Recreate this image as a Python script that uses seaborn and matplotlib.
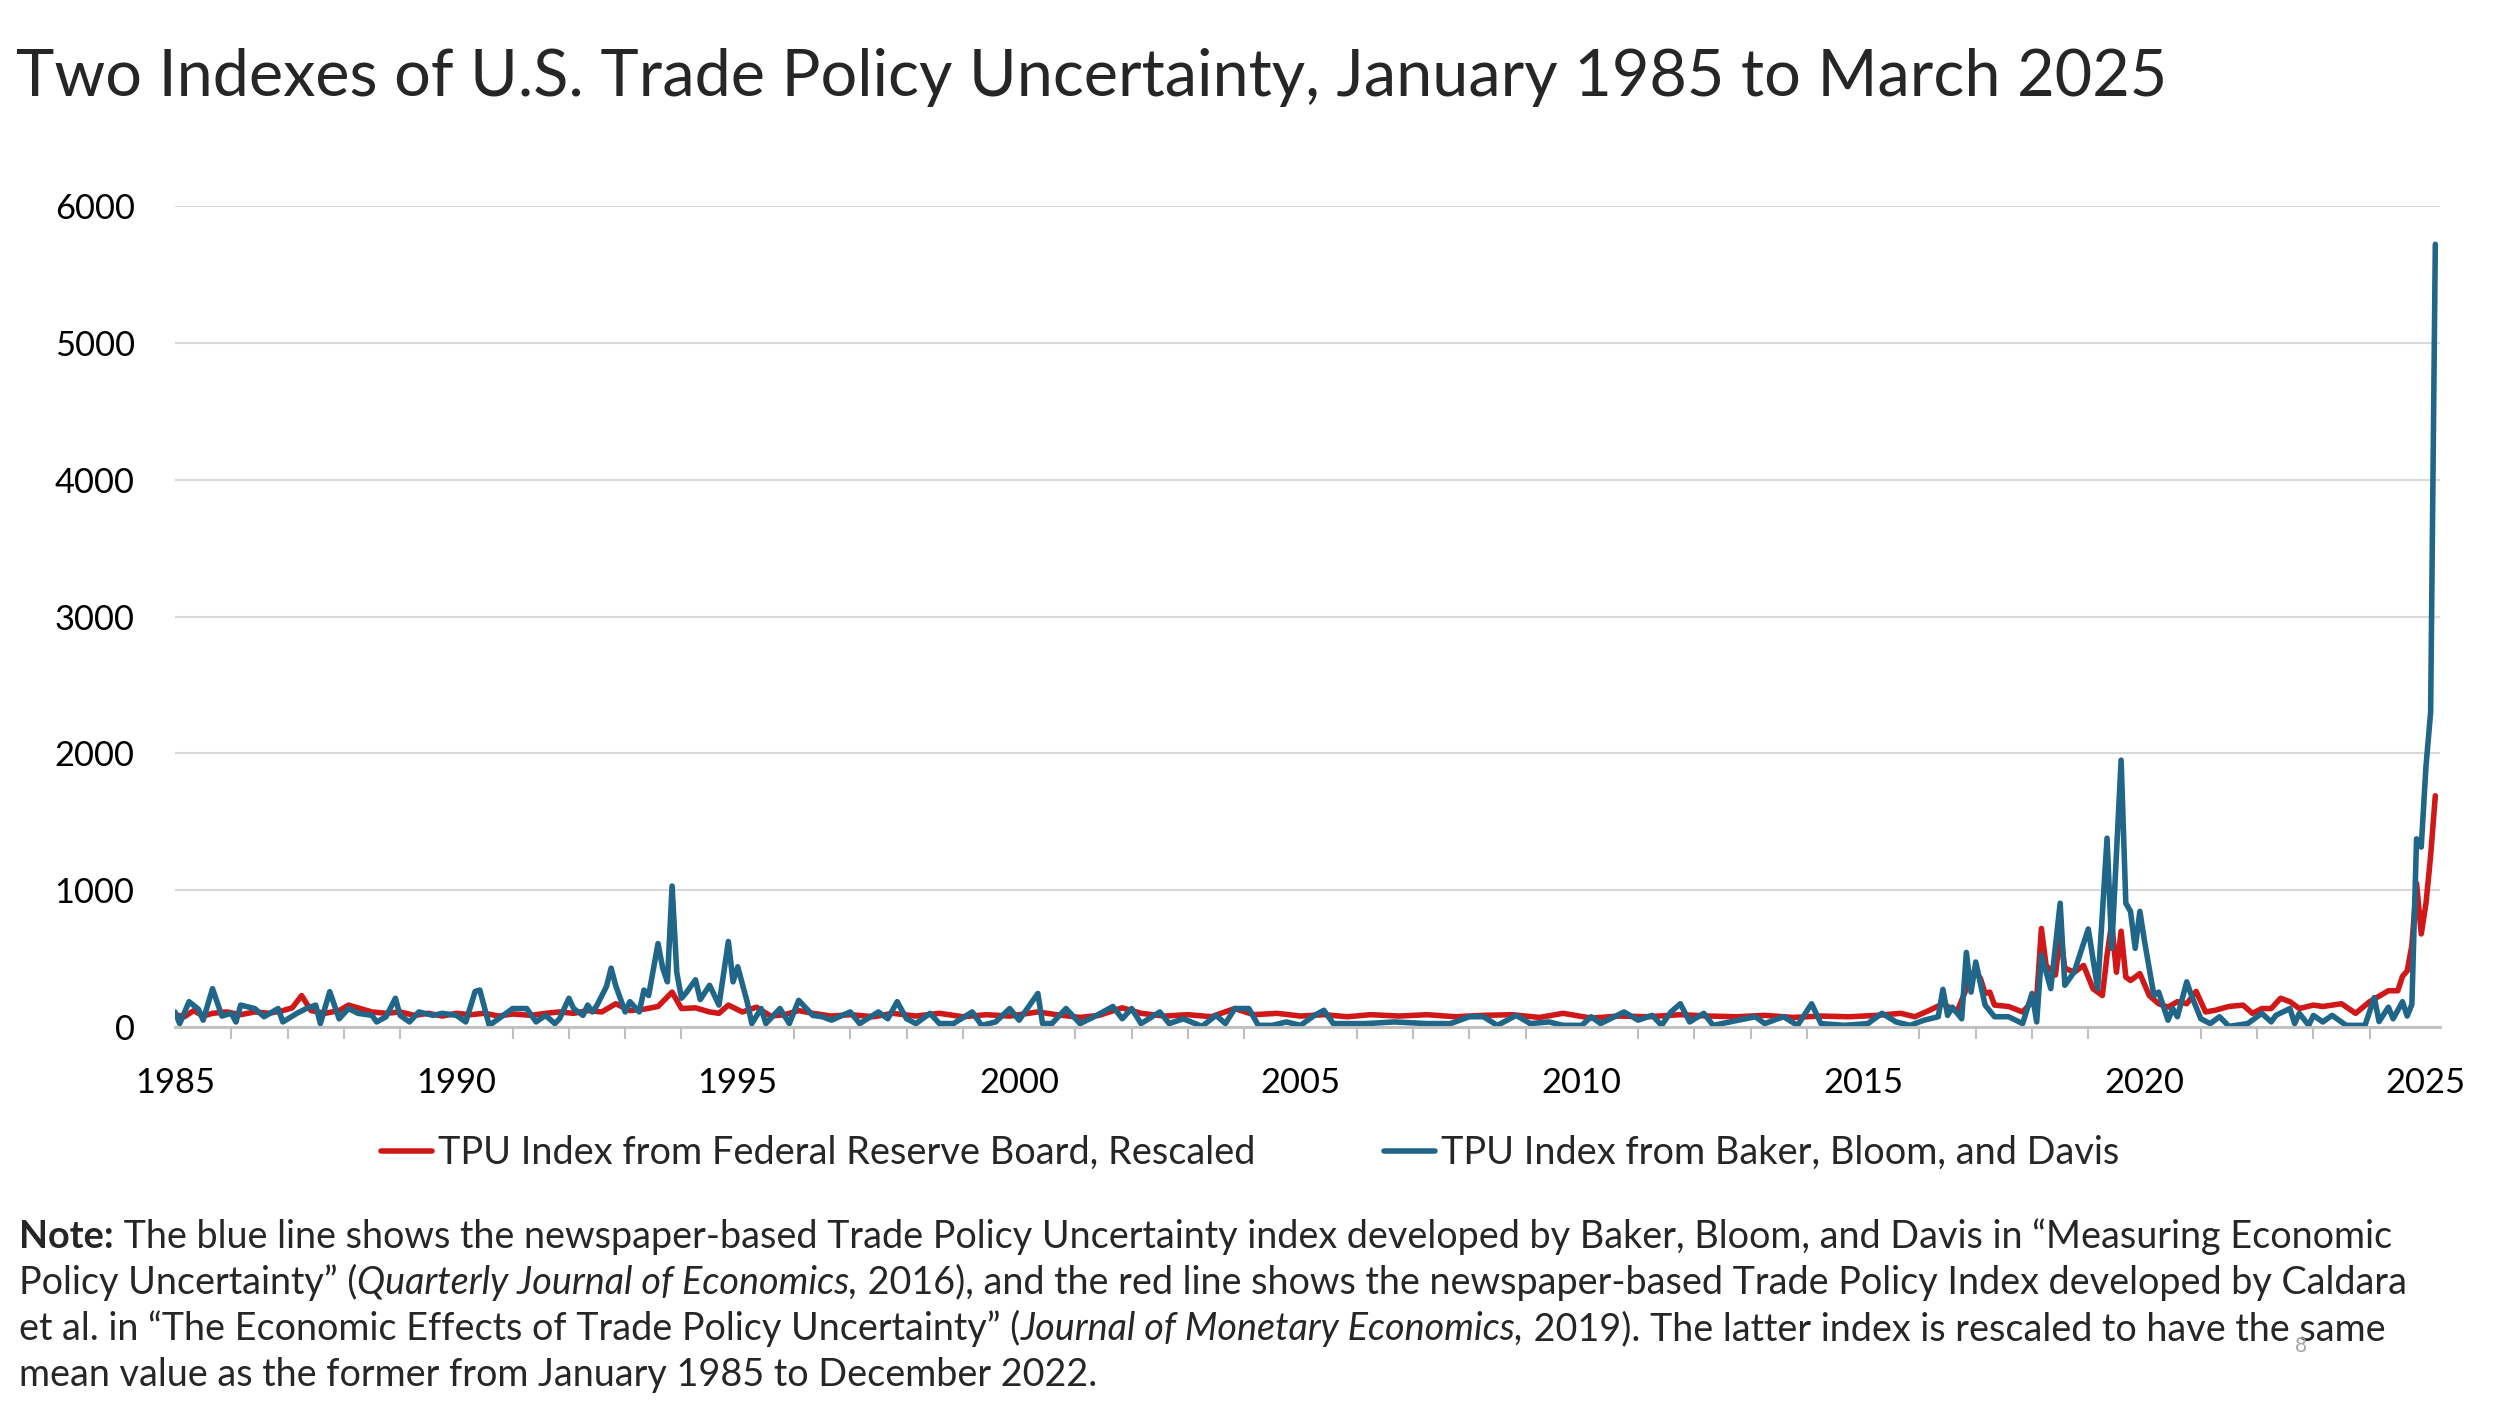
import matplotlib
matplotlib.use("Agg")
import matplotlib.pyplot as plt
import pandas as pd
import seaborn as sns

# Caldara et al. (Federal Reserve Board) index, rescaled
fed_months = [
    "1985-01", "1985-03", "1985-05", "1985-07", "1985-09", "1985-12", "1986-03", "1986-06",
    "1986-09", "1986-12", "1987-02", "1987-04", "1987-06", "1987-09", "1987-12", "1988-02",
    "1988-04", "1988-07", "1988-10", "1989-01", "1989-04", "1989-07", "1989-10", "1990-01",
    "1990-04", "1990-07", "1990-10", "1991-01", "1991-05", "1991-08", "1991-11", "1992-02",
    "1992-05", "1992-08", "1992-11", "1993-02", "1993-05", "1993-08", "1993-11", "1994-01",
    "1994-04", "1994-07", "1994-09", "1994-11", "1995-02", "1995-05", "1995-08", "1995-11",
    "1996-02", "1996-05", "1996-09", "1997-01", "1997-06", "1997-10", "1998-03", "1998-08",
    "1999-01", "1999-06", "1999-11", "2000-05", "2000-09", "2001-02", "2001-06", "2001-11",
    "2002-03", "2002-08", "2003-01", "2003-06", "2003-11", "2004-03", "2004-08", "2005-01",
    "2005-06", "2005-11", "2006-04", "2006-10", "2007-04", "2007-10", "2008-04", "2008-10",
    "2009-04", "2009-09", "2010-03", "2010-09", "2011-03", "2011-10", "2012-04", "2012-10",
    "2013-04", "2013-10", "2014-04", "2014-10", "2015-04", "2015-09", "2015-12", "2016-03",
    "2016-06", "2016-09", "2016-11", "2017-01", "2017-02", "2017-03", "2017-04", "2017-05",
    "2017-08", "2017-11", "2018-01", "2018-02", "2018-03", "2018-04", "2018-06", "2018-07",
    "2018-08", "2018-10", "2018-12", "2019-02", "2019-04", "2019-05", "2019-06", "2019-07",
    "2019-08", "2019-09", "2019-10", "2019-12", "2020-02", "2020-04", "2020-06", "2020-08",
    "2020-10", "2020-12", "2021-01", "2021-02", "2021-04", "2021-07", "2021-10", "2021-12",
    "2022-02", "2022-04", "2022-06", "2022-08", "2022-10", "2023-01", "2023-03", "2023-07",
    "2023-10", "2024-01", "2024-03", "2024-05", "2024-07", "2024-08", "2024-09", "2024-10",
    "2024-11", "2024-12", "2025-01", "2025-02", "2025-03",
]
fed_values = [
    90, 75, 120, 80, 100, 110, 90, 110,
    100, 120, 140, 230, 120, 100, 120, 160,
    140, 110, 100, 110, 85, 100, 80, 100,
    90, 100, 80, 95, 85, 100, 110, 100,
    120, 110, 170, 120, 130, 150, 255, 135,
    140, 110, 100, 160, 110, 145, 80, 90,
    120, 100, 80, 90, 75, 100, 80, 100,
    75, 90, 80, 110, 90, 70, 85, 140,
    100, 80, 90, 75, 135, 90, 100, 80,
    90, 75, 90, 80, 90, 75, 85, 90,
    70, 100, 65, 80, 75, 90, 80, 75,
    85, 70, 80, 75, 85, 100, 75, 120,
    170, 110, 280, 400, 355, 245, 255, 160,
    150, 110, 185, 210, 720, 450, 380, 685,
    430, 400, 450, 280, 230, 525, 758, 400,
    700, 365, 340, 390, 230, 170, 145, 185,
    170, 260, 185, 110, 122, 150, 160, 100,
    135, 135, 210, 185, 135, 160, 150, 170,
    100, 185, 225, 265, 265, 370, 410, 595,
    1050, 680, 900, 1250, 1690,
]

# Baker, Bloom and Davis index
bbd_months = [
    "1985-01", "1985-02", "1985-04", "1985-06", "1985-07", "1985-09", "1985-11", "1986-01",
    "1986-02", "1986-03", "1986-06", "1986-08", "1986-11", "1986-12", "1987-03", "1987-05",
    "1987-07", "1987-08", "1987-10", "1987-12", "1988-02", "1988-04", "1988-07", "1988-08",
    "1988-10", "1988-12", "1989-01", "1989-03", "1989-05", "1989-08", "1989-10", "1990-01",
    "1990-03", "1990-05", "1990-06", "1990-08", "1990-10", "1991-01", "1991-04", "1991-06",
    "1991-08", "1991-10", "1991-11", "1992-01", "1992-02", "1992-04", "1992-05", "1992-06",
    "1992-07", "1992-09", "1992-10", "1992-11", "1993-01", "1993-02", "1993-04", "1993-05",
    "1993-06", "1993-08", "1993-09", "1993-10", "1993-11", "1993-12", "1994-01", "1994-02",
    "1994-04", "1994-05", "1994-07", "1994-09", "1994-11", "1994-12", "1995-01", "1995-03",
    "1995-04", "1995-06", "1995-07", "1995-10", "1995-12", "1996-02", "1996-05", "1996-07",
    "1996-09", "1997-01", "1997-03", "1997-07", "1997-09", "1997-11", "1998-01", "1998-03",
    "1998-06", "1998-08", "1998-11", "1999-03", "1999-05", "1999-08", "1999-11", "2000-01",
    "2000-05", "2000-06", "2000-08", "2000-11", "2001-02", "2001-05", "2001-09", "2001-11",
    "2002-01", "2002-03", "2002-07", "2002-09", "2002-12", "2003-04", "2003-07", "2003-09",
    "2003-11", "2004-02", "2004-04", "2004-07", "2004-10", "2005-01", "2005-04", "2005-06",
    "2005-08", "2006-03", "2006-09", "2007-04", "2007-09", "2008-01", "2008-04", "2008-07",
    "2008-11", "2009-02", "2009-06", "2009-09", "2010-01", "2010-03", "2010-05", "2010-10",
    "2011-01", "2011-04", "2011-06", "2011-08", "2011-10", "2011-12", "2012-03", "2012-05",
    "2013-02", "2013-04", "2013-08", "2013-11", "2014-02", "2014-04", "2014-09", "2015-02",
    "2015-05", "2015-08", "2015-11", "2016-02", "2016-05", "2016-06", "2016-07", "2016-08",
    "2016-10", "2016-11", "2016-12", "2017-01", "2017-03", "2017-05", "2017-08", "2017-11",
    "2018-01", "2018-02", "2018-03", "2018-05", "2018-07", "2018-08", "2018-10", "2019-01",
    "2019-03", "2019-05", "2019-06", "2019-08", "2019-09", "2019-10", "2019-11", "2019-12",
    "2020-01", "2020-03", "2020-04", "2020-06", "2020-07", "2020-08", "2020-10", "2020-11",
    "2021-01", "2021-03", "2021-05", "2021-07", "2021-11", "2022-02", "2022-04", "2022-05",
    "2022-08", "2022-09", "2022-10", "2022-12", "2023-01", "2023-03", "2023-05", "2023-08",
    "2023-12", "2024-02", "2024-03", "2024-05", "2024-06", "2024-08", "2024-09", "2024-10",
    "2024-11", "2024-12", "2025-01", "2025-02", "2025-03",
]
bbd_values = [
    110, 25, 185, 130, 50, 280, 80, 100,
    37, 160, 135, 75, 135, 37, 100, 135,
    160, 25, 258, 60, 135, 100, 85, 37,
    75, 210, 85, 37, 110, 85, 100, 85,
    37, 260, 270, 12, 60, 135, 135, 37,
    85, 25, 60, 210, 135, 85, 160, 110,
    160, 295, 430, 300, 110, 185, 110, 270,
    230, 610, 430, 330, 1030, 400, 210, 250,
    345, 200, 305, 160, 625, 330, 440, 185,
    25, 135, 25, 135, 25, 195, 85, 75,
    50, 110, 25, 110, 60, 185, 60, 25,
    100, 25, 25, 110, 12, 37, 135, 50,
    245, 25, 25, 135, 25, 75, 150, 60,
    135, 25, 110, 25, 60, 5, 85, 25,
    135, 135, 12, 12, 37, 12, 85, 122,
    25, 25, 37, 25, 25, 75, 75, 12,
    85, 25, 37, 12, 12, 75, 25, 110,
    50, 85, 12, 110, 170, 37, 100, 12,
    75, 25, 75, 12, 170, 25, 12, 25,
    100, 37, 12, 50, 75, 275, 85, 145,
    60, 545, 255, 475, 160, 75, 75, 25,
    245, 37, 525, 280, 905, 305, 403, 716,
    280, 1380, 575, 1950, 905, 845, 575, 845,
    625, 230, 255, 50, 135, 75, 330, 230,
    60, 25, 75, 5, 25, 100, 37, 85,
    135, 25, 100, 12, 85, 37, 85, 12,
    12, 215, 40, 145, 60, 185, 80, 165,
    1375, 1315, 1900, 2300, 5720,
]

fed_label = "TPU Index from Federal Reserve Board, Rescaled"
bbd_label = "TPU Index from Baker, Bloom, and Davis"
year_ticks = [1985, 1990, 1995, 2000, 2005, 2010, 2015, 2020, 2025]
value_ticks = [0, 1000, 2000, 3000, 4000, 5000, 6000]
title = "Two Indexes of U.S. Trade Policy Uncertainty, January 1985 to March 2025"

# note text, one list per printed line: (text, weight, style)
note_lines = [
    [("Note:", "bold", "normal"),
     (" The blue line shows the newspaper-based Trade Policy Uncertainty index developed by "
      "Baker, Bloom, and Davis in \u201cMeasuring Economic", "normal", "normal")],
    [("Policy Uncertainty\u201d (", "normal", "normal"),
     ("Quarterly Journal of Economics,", "normal", "italic"),
     (" 2016), and the red line shows the newspaper-based Trade Policy Index developed by Caldara",
      "normal", "normal")],
    [("et al. in \u201cThe Economic Effects of Trade Policy Uncertainty\u201d (", "normal", "normal"),
     ("Journal of Monetary Economics,", "normal", "italic"),
     (" 2019). The latter index is rescaled to have the same", "normal", "normal")],
    [("mean value as the former from January 1985 to December 2022.", "normal", "normal")],
]

RED = "#D01818"
BLUE = "#1F6688"


def to_year(m):
    y, mo = m.split("-")
    return int(y) + (int(mo) - 1) / 12


df = pd.concat([
    pd.DataFrame({"year": [to_year(m) for m in fed_months], "value": fed_values, "series": fed_label}),
    pd.DataFrame({"year": [to_year(m) for m in bbd_months], "value": bbd_values, "series": bbd_label}),
], ignore_index=True)

sns.set_theme(style="white")
plt.rcParams["font.family"] = ["Lato", "DejaVu Sans"]

W, H = 2500, 1406
fig = plt.figure(figsize=(W / 100, H / 100), dpi=100)
renderer = fig.canvas.get_renderer()


def fit_size(s, target_px, weight="normal"):
    # font size that gives a string the width measured on the reference
    t = fig.text(0, 0, s, fontsize=20, weight=weight)
    w = t.get_window_extent(renderer).width
    t.remove()
    return 20 * target_px / w


ax = fig.add_axes([175 / W, 1 - 1027 / H, (2440 - 175) / W, (1027 - 206) / H])

sns.lineplot(data=df, x="year", y="value", hue="series", hue_order=[fed_label, bbd_label],
             palette=[RED, BLUE], linewidth=4.0, estimator=None, ax=ax,
             solid_joinstyle="round", solid_capstyle="round")

ax.set_xlim(1985, 2025.25)
ax.set_ylim(0, 6000)
ax.set_xticks(year_ticks)
ax.set_xticks(range(1985, 2026), minor=True)
ax.set_yticks(value_ticks)
ax.set_xlabel("")
ax.set_ylabel("")
ax.yaxis.grid(True, color="#d9d9d9", linewidth=1.5)
ax.xaxis.grid(False)
ax.set_axisbelow(True)
for side in ["top", "right", "left"]:
    ax.spines[side].set_visible(False)
ax.spines["bottom"].set_color("#bfbfbf")
ax.spines["bottom"].set_linewidth(2)

tick_size = fit_size("1985", 80)
ax.tick_params(axis="x", which="major", length=11, width=1.5, color="#bfbfbf", pad=18,
               labelsize=tick_size, labelcolor="black")
ax.tick_params(axis="x", which="minor", length=8.5, width=1.5, color="#bfbfbf", bottom=True)
ax.tick_params(axis="y", length=0, pad=29, labelsize=tick_size, labelcolor="black")

# legend below the plot, centred on the figure
handles, labels = ax.get_legend_handles_labels()
if ax.get_legend() is not None:
    ax.get_legend().remove()
leg_size = fit_size(fed_label, 817)
fig.legend(handles, labels, loc="center", bbox_to_anchor=(0.5, 1 - 1153 / H), ncol=2,
           frameon=False, fontsize=leg_size, handlelength=1.35, handletextpad=0.15,
           columnspacing=3.4)

title_size = fit_size(title, 2152)
fig.text(16 / W, 1 - 96 / H, title, fontsize=title_size, ha="left", va="baseline")

# note under the chart: pieces placed one after another to mix bold / italic
note_size = fit_size("".join(p[0] for p in note_lines[0]), 2376)
baselines = [1248, 1294, 1340, 1386]
for parts, yb in zip(note_lines, baselines):
    x = 19
    for s, weight, style in parts:
        t = fig.text(x / W, 1 - yb / H, s, fontsize=note_size, weight=weight, style=style,
                     ha="left", va="baseline")
        x = t.get_window_extent(renderer).x1

fig.text(2301 / W, 1 - 1352 / H, "8", fontsize=15, color="#a6a6a6", ha="center", va="baseline")

fig.savefig("out.png", dpi=100)
